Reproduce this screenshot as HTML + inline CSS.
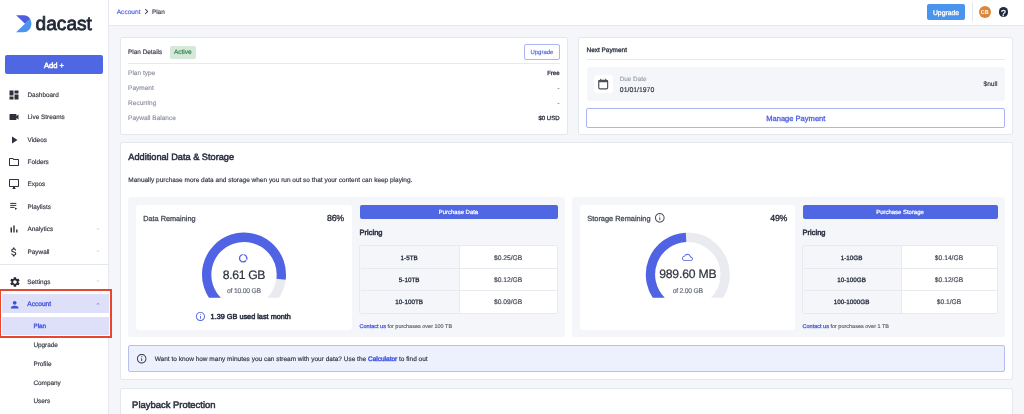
<!DOCTYPE html>
<html><head><meta charset="utf-8"><title>Dacast - Plan</title>
<style>
html,body{margin:0;padding:0;}
body{width:1024px;height:414px;overflow:hidden;position:relative;font-family:"Liberation Sans", Arial, sans-serif;background:#f5f6fa;text-rendering:geometricPrecision;}
.a{position:absolute;}
.t{position:absolute;white-space:nowrap;line-height:1;}
#w{position:absolute;left:0;top:0;width:1024px;height:414px;will-change:transform;}
</style></head><body><div id="w">
<div class="a" style="left:0.00px;top:0.00px;width:1024.00px;height:414.00px;background:#f5f6fa;"></div>
<div class="a" style="left:0.00px;top:0.00px;width:108.00px;height:414.00px;background:#fff;"></div>
<div class="a" style="left:108.00px;top:0.00px;width:1.00px;height:414.00px;background:#e5e7ee;"></div>
<svg class="a" style="left:0.00px;top:0.00px;" width="40" height="40" viewBox="0 0 40 40"><path fill="#4f5de0" d="M16.1,15.2 L23.6,15.2 C26.6,15.2 29,16.8 30.3,19.2 L25,23.75 Z"/><path fill="#4b93ee" d="M25,23.75 L30.3,19.2 C31,20.5 31.4,22 31.4,23.75 C31.4,28.5 28,32.3 23.6,32.3 L16.1,32.3 Z"/></svg>
<div class="t" style="left:35.60px;top:15px;font-size:19.1px;color:#1f2636;-webkit-text-stroke-width:0.15px;-webkit-text-stroke-width:0.8px;">dacast</div>
<div class="a" style="left:5.00px;top:55.20px;width:98.00px;height:18.60px;background:#5067e3;border-radius:2px;"></div>
<div class="t" style="left:-246.00px;width:600px;text-align:center;top:62px;font-size:7.6px;color:#fff;-webkit-text-stroke-width:0.5px;">Add +</div>
<svg class="a" style="left:8.40px;top:88.70px;" width="12" height="12" viewBox="0 0 24 24"><path fill="#2c313c" d="M3 13h8V3H3v10zm0 8h8v-6H3v6zm10 0h8V11h-8v10zm0-18v6h8V3h-8z"/></svg>
<div class="t" style="left:27.50px;top:93px;font-size:6.4px;color:#30343f;-webkit-text-stroke-width:0.15px;">Dashboard</div>
<svg class="a" style="left:8.40px;top:111.10px;" width="12" height="12" viewBox="0 0 24 24"><path fill="#2c313c" d="M17 10.5V7c0-.55-.45-1-1-1H4c-.55 0-1 .45-1 1v10c0 .55.45 1 1 1h12c.55 0 1-.45 1-1v-3.5l4 4v-11l-4 4z"/></svg>
<div class="t" style="left:27.50px;top:115px;font-size:6.4px;color:#30343f;-webkit-text-stroke-width:0.15px;">Live Streams</div>
<svg class="a" style="left:8.40px;top:133.60px;" width="12" height="12" viewBox="0 0 24 24"><path fill="#2c313c" d="M8 5v14l11-7z"/></svg>
<div class="t" style="left:27.50px;top:138px;font-size:6.4px;color:#30343f;-webkit-text-stroke-width:0.15px;">Videos</div>
<svg class="a" style="left:8.40px;top:156.00px;" width="12" height="12" viewBox="0 0 24 24"><path fill="#2c313c" d="M9.17 6l2 2H20v10H4V6h5.17M10 4H4c-1.1 0-1.99.9-1.99 2L2 18c0 1.1.9 2 2 2h16c1.1 0 2-.9 2-2V8c0-1.1-.9-2-2-2h-8l-2-2z"/></svg>
<div class="t" style="left:27.50px;top:160px;font-size:6.4px;color:#30343f;-webkit-text-stroke-width:0.15px;">Folders</div>
<svg class="a" style="left:8.40px;top:178.40px;" width="12" height="12" viewBox="0 0 24 24"><path fill="#2c313c" d="M20 2H4c-1.1 0-2 .9-2 2v12c0 1.1.9 2 2 2h6v2H9v2h6v-2h-1v-2h6c1.1 0 2-.9 2-2V4c0-1.1-.9-2-2-2zm0 14H4V4h16v12z"/></svg>
<div class="t" style="left:27.50px;top:182px;font-size:6.4px;color:#30343f;-webkit-text-stroke-width:0.15px;">Expos</div>
<svg class="a" style="left:0.00px;top:195.00px;" width="30" height="20" viewBox="0 195 30 20"><g fill="#262b36"><rect x="10.2" y="202.9" width="6.1" height="0.95"/><rect x="10.2" y="204.9" width="6.1" height="0.95"/><rect x="10.2" y="206.9" width="4.3" height="0.95"/><path d="M15,207.6 L17.3,208.7 L15,209.8 Z"/></g></svg>
<div class="t" style="left:27.50px;top:205px;font-size:6.4px;color:#30343f;-webkit-text-stroke-width:0.15px;">Playlists</div>
<svg class="a" style="left:8.40px;top:223.20px;" width="12" height="12" viewBox="0 0 24 24"><path fill="#2c313c" d="M5 9.2h3V19H5zM10.6 5h2.8v14h-2.8zm5.6 8H19v6h-2.8z"/></svg>
<div class="t" style="left:27.50px;top:227px;font-size:6.4px;color:#30343f;-webkit-text-stroke-width:0.15px;">Analytics</div>
<svg class="a" style="left:8.40px;top:245.60px;" width="12" height="12" viewBox="0 0 24 24"><path fill="#2c313c" d="M11.8 10.9c-2.27-.59-3-1.2-3-2.15 0-1.09 1.01-1.85 2.7-1.85 1.78 0 2.44.85 2.5 2.1h2.21c-.07-1.72-1.12-3.3-3.21-3.81V3h-3v2.16c-1.94.42-3.5 1.68-3.5 3.610 0 2.31 1.91 3.46 4.7 4.13 2.5.6 3 1.48 3 2.41 0 .69-.49 1.79-2.7 1.79-2.06 0-2.870-.92-2.98-2.1h-2.2c.12 2.19 1.76 3.42 3.68 3.83V21h3v-2.15c1.950-.37 3.5-1.5 3.5-3.55 0-2.84-2.43-3.81-4.7-4.4z"/></svg>
<div class="t" style="left:27.50px;top:250px;font-size:6.4px;color:#30343f;-webkit-text-stroke-width:0.15px;">Paywall</div>
<svg class="a" style="left:94.50px;top:225.80px;" width="6" height="6" viewBox="0 0 24 24"><path fill="#c5c8d2" d="M16.59 8.59L12 13.17 7.41 8.59 6 10l6 6 6-6z"/></svg>
<svg class="a" style="left:94.50px;top:248.20px;" width="6" height="6" viewBox="0 0 24 24"><path fill="#c5c8d2" d="M16.59 8.59L12 13.17 7.41 8.59 6 10l6 6 6-6z"/></svg>
<svg class="a" style="left:94.50px;top:278.40px;" width="6" height="6" viewBox="0 0 24 24"><path fill="#c5c8d2" d="M16.59 8.59L12 13.17 7.41 8.59 6 10l6 6 6-6z"/></svg>
<div class="a" style="left:0.00px;top:263.70px;width:108.00px;height:1.00px;background:#e5e7ee;"></div>
<svg class="a" style="left:8.50px;top:275.90px;" width="11.9" height="11.9" viewBox="0 0 24 24"><path fill="#262b36" d="M19.14,12.94c0.04-0.3,0.06-0.61,0.06-0.94c0-0.32-0.02-0.64-0.07-0.94l2.03-1.58c0.18-0.14,0.23-0.41,0.12-0.61 l-1.92-3.32c-0.12-0.22-0.37-0.29-0.59-0.22l-2.39,0.96c-0.5-0.38-1.03-0.7-1.62-0.94L14.4,2.81c-0.04-0.24-0.24-0.41-0.48-0.41 h-3.84c-0.24,0-0.43,0.17-0.47,0.41L9.25,5.35C8.66,5.59,8.12,5.92,7.63,6.29L5.24,5.33c-0.22-0.08-0.47,0-0.59,0.22L2.74,8.87 C2.62,9.08,2.66,9.34,2.86,9.48l2.03,1.58C4.84,11.36,4.8,11.69,4.8,12s0.02,0.64,0.07,0.94l-2.03,1.58 c-0.18,0.14-0.23,0.41-0.12,0.61l1.92,3.32c0.12,0.22,0.37,0.29,0.59,0.22l2.39-0.96c0.5,0.38,1.03,0.7,1.62,0.94l0.36,2.54 c0.05,0.24,0.24,0.41,0.48,0.41h3.84c0.24,0,0.44-0.17,0.47-0.41l0.36-2.54c0.59-0.24,1.13-0.56,1.62-0.94l2.39,0.96 c0.22,0.08,0.47,0,0.59-0.22l1.92-3.32c0.12-0.22,0.07-0.47-0.12-0.61L19.14,12.94z M12,15.6c-1.98,0-3.6-1.62-3.6-3.6 s1.62-3.6,3.6-3.6s3.6,1.62,3.6,3.6S13.98,15.6,12,15.6z"/></svg>
<div class="t" style="left:27.30px;top:280px;font-size:6.4px;color:#30343f;-webkit-text-stroke-width:0.15px;">Settings</div>
<div class="a" style="left:-0.70px;top:288.80px;width:112.90px;height:49.50px;background:#fff;border:2px solid #e8472d;box-sizing:border-box;"></div>
<div class="a" style="left:1.90px;top:293.80px;width:107.00px;height:19.00px;background:#dde0f8;"></div>
<div class="a" style="left:1.90px;top:316.80px;width:107.00px;height:18.40px;background:#dde0f8;"></div>
<svg class="a" style="left:8.80px;top:298.60px;" width="11.4" height="11.4" viewBox="0 0 24 24"><path fill="#3e50dc" d="M12 12c2.21 0 4-1.79 4-4s-1.79-4-4-4-4 1.79-4 4 1.79 4 4 4zm0 2c-2.67 0-8 1.34-8 4v2h16v-2c0-2.66-5.33-4-8-4z"/></svg>
<div class="t" style="left:27.30px;top:302px;font-size:6.6px;color:#3e50dc;-webkit-text-stroke-width:0.3px;">Account</div>
<svg class="a" style="left:94.50px;top:301.00px;" width="6" height="6" viewBox="0 0 24 24"><path fill="#5a6bdc" d="M12 8l-6 6 1.41 1.41L12 10.83l4.59 4.58L18 14z"/></svg>
<div class="t" style="left:33.50px;top:324px;font-size:6.3px;color:#3e50dc;-webkit-text-stroke-width:0.3px;">Plan</div>
<div class="t" style="left:33.40px;top:343px;font-size:6.4px;color:#30343f;-webkit-text-stroke-width:0.15px;">Upgrade</div>
<div class="t" style="left:33.40px;top:362px;font-size:6.4px;color:#30343f;-webkit-text-stroke-width:0.15px;">Profile</div>
<div class="t" style="left:33.40px;top:381px;font-size:6.4px;color:#30343f;-webkit-text-stroke-width:0.15px;">Company</div>
<div class="t" style="left:33.40px;top:399px;font-size:6.4px;color:#30343f;-webkit-text-stroke-width:0.15px;">Users</div>
<div class="a" style="left:109.00px;top:0.00px;width:915.00px;height:25.00px;background:#fff;"></div>
<div class="a" style="left:109.00px;top:25.00px;width:915.00px;height:1.00px;background:#e5e7ee;"></div>
<div class="t" style="left:116.70px;top:10px;font-size:6.6px;color:#4b5fe0;-webkit-text-stroke-width:0.15px;">Account</div>
<svg class="a" style="left:140.90px;top:6.20px;" width="11" height="11" viewBox="0 0 24 24"><path fill="#3a3f4b" d="M10 6L8.59 7.41 13.17 12l-4.58 4.59L10 18l6-6z"/></svg>
<div class="t" style="left:151.90px;top:10px;font-size:6.4px;color:#3a3f4b;-webkit-text-stroke-width:0.15px;">Plan</div>
<div class="a" style="left:927.00px;top:4.30px;width:38.00px;height:15.40px;background:#4a94ee;border-radius:2px;"></div>
<div class="t" style="left:646.00px;width:600px;text-align:center;top:11px;font-size:6.8px;color:#fff;-webkit-text-stroke-width:0.3px;">Upgrade</div>
<div class="a" style="left:972.00px;top:2.00px;width:1.00px;height:20.00px;background:#e5e7ee;"></div>
<div class="a" style="left:978.80px;top:6.10px;width:11.90px;height:11.90px;background:#d9873b;border-radius:50%;"></div>
<div class="t" style="left:684.70px;width:600px;text-align:center;top:11px;font-size:5.4px;color:#fff;font-weight:700;">CB</div>
<div class="a" style="left:998.60px;top:7.20px;width:9.60px;height:9.60px;background:#1e293b;border-radius:50%;"></div>
<div class="t" style="left:703.30px;width:600px;text-align:center;top:9px;font-size:8.6px;color:#fff;-webkit-text-stroke-width:0.3px;">?</div>
<div class="a" style="left:120.00px;top:36.60px;width:448.00px;height:98.80px;background:#fff;border:1px solid #e5e7ee;border-radius:2px;box-sizing:border-box;"></div>
<div class="t" style="left:128.10px;top:50px;font-size:6.4px;color:#2f3441;-webkit-text-stroke-width:0.15px;">Plan Details</div>
<div class="a" style="left:170.00px;top:45.70px;width:25.50px;height:12.90px;background:#d5e9da;border-radius:2px;"></div>
<div class="t" style="left:-117.20px;width:600px;text-align:center;top:50px;font-size:6.55px;color:#3e8a50;-webkit-text-stroke-width:0.22px;">Active</div>
<div class="a" style="left:524.20px;top:44.20px;width:35.40px;height:15.40px;border:1px solid #aab5f2;border-radius:2px;box-sizing:border-box;background:#fff;"></div>
<div class="t" style="left:241.90px;width:600px;text-align:center;top:50px;font-size:6.0px;color:#5065e3;-webkit-text-stroke-width:0.15px;">Upgrade</div>
<div class="a" style="left:128.00px;top:62.60px;width:432.00px;height:1.00px;background:#e8eaf0;"></div>
<div class="t" style="left:128.10px;top:71px;font-size:6.5px;color:#8c91a1;-webkit-text-stroke-width:0.15px;">Plan type</div>
<div class="t" style="right:464.50px;text-align:right;top:71px;font-size:6.0px;color:#2c3240;-webkit-text-stroke-width:0.3px;">Free</div>
<div class="t" style="left:128.10px;top:86px;font-size:6.5px;color:#8c91a1;-webkit-text-stroke-width:0.15px;">Payment</div>
<div class="t" style="right:464.50px;text-align:right;top:86px;font-size:6.0px;color:#80859a;-webkit-text-stroke-width:0.15px;">-</div>
<div class="t" style="left:128.10px;top:101px;font-size:6.5px;color:#8c91a1;-webkit-text-stroke-width:0.15px;">Recurring</div>
<div class="t" style="right:464.50px;text-align:right;top:101px;font-size:6.0px;color:#80859a;-webkit-text-stroke-width:0.15px;">-</div>
<div class="t" style="left:128.10px;top:116px;font-size:6.5px;color:#8c91a1;-webkit-text-stroke-width:0.15px;">Paywall Balance</div>
<div class="t" style="right:464.50px;text-align:right;top:116px;font-size:6.0px;color:#2c3240;-webkit-text-stroke-width:0.3px;">$0 USD</div>
<div class="a" style="left:578.00px;top:36.60px;width:435.00px;height:98.80px;background:#fff;border:1px solid #e5e7ee;border-radius:2px;box-sizing:border-box;"></div>
<div class="t" style="left:586.50px;top:48px;font-size:6.45px;color:#2c3240;-webkit-text-stroke-width:0.3px;">Next Payment</div>
<div class="a" style="left:586.50px;top:59.10px;width:418.50px;height:1.00px;background:#e8eaf0;"></div>
<div class="a" style="left:586.50px;top:67.10px;width:418.10px;height:33.50px;background:#f5f6fa;border-radius:3px;"></div>
<div class="a" style="left:594.00px;top:74.80px;width:18.60px;height:18.60px;background:#fff;border-radius:3px;"></div>
<svg class="a" style="left:590.00px;top:70.00px;" width="24" height="24" viewBox="590 70 24 24"><rect x="598.75" y="80.35" width="8.9" height="8.5" rx="1.3" fill="none" stroke="#4a4f5e" stroke-width="1.15"/><rect x="598.3" y="79.9" width="9.8" height="2.4" rx="1" fill="#4a4f5e"/><rect x="600.2" y="78.8" width="1" height="1.6" fill="#4a4f5e"/><rect x="605.2" y="78.8" width="1" height="1.6" fill="#4a4f5e"/></svg>
<div class="t" style="left:619.80px;top:77px;font-size:6.3px;color:#9ba0ae;-webkit-text-stroke-width:0.15px;">Due Date</div>
<div class="t" style="left:619.80px;top:88px;font-size:6.9px;color:#2c3240;-webkit-text-stroke-width:0.15px;">01/01/1970</div>
<div class="t" style="right:26.60px;text-align:right;top:82px;font-size:6.6px;color:#2c3240;-webkit-text-stroke-width:0.15px;">$null</div>
<div class="a" style="left:586.30px;top:108.20px;width:418.70px;height:20.00px;border:1px solid #aab5f2;border-radius:2px;box-sizing:border-box;background:#fff;"></div>
<div class="t" style="left:495.80px;width:600px;text-align:center;top:115px;font-size:7.55px;color:#4b5fe0;-webkit-text-stroke-width:0.3px;">Manage Payment</div>
<div class="a" style="left:120.00px;top:142.40px;width:893.00px;height:237.20px;background:#fff;border:1px solid #e5e7ee;border-radius:2px;box-sizing:border-box;"></div>
<div class="t" style="left:128.30px;top:153px;font-size:9.2px;color:#2a3040;-webkit-text-stroke-width:0.5px;">Additional Data &amp; Storage</div>
<div class="t" style="left:128.30px;top:178px;font-size:6.49px;color:#2c3240;-webkit-text-stroke-width:0.15px;">Manually purchase more data and storage when you run out so that your content can keep playing.</div>
<div class="a" style="left:128.30px;top:197.30px;width:436.50px;height:139.90px;background:#f5f6fa;border-radius:3px;"></div>
<div class="a" style="left:135.80px;top:204.70px;width:215.90px;height:124.90px;background:#fff;border-radius:3px;"></div>
<div class="t" style="left:143.20px;top:215px;font-size:7.3px;color:#474c59;-webkit-text-stroke-width:0.3px;">Data Remaining</div>
<div class="t" style="right:680.15px;text-align:right;top:214px;font-size:8.8px;color:#1f2533;-webkit-text-stroke-width:0.3px;letter-spacing:-0.25px;">86%</div>
<svg class="a" style="left:0;top:0;" width="1024" height="414" viewBox="0 0 1024 414"><defs><clipPath id="c244"><rect x="0" y="0" width="1024" height="297.8"/></clipPath></defs><g clip-path="url(#c244)"><path d="M217.59,301.01 A37.35,37.35 0 1 1 270.41,301.01" fill="none" stroke="#e9ebf1" stroke-width="9.299999999999997"/><path d="M217.59,301.01 A37.35,37.35 0 1 1 281.06,279.28" fill="none" stroke="#4f63e4" stroke-width="9.299999999999997"/></g></svg>
<div class="t" style="left:-56.00px;width:600px;text-align:center;top:269px;font-size:12.2px;color:#30353f;-webkit-text-stroke-width:0.22px;letter-spacing:-0.35px;">8.61 GB</div>
<div class="t" style="left:-56.00px;width:600px;text-align:center;top:289px;font-size:6.8px;color:#626878;-webkit-text-stroke-width:0.15px;letter-spacing:-0.22px;">of 10.00 GB</div>
<div class="a" style="left:359.60px;top:204.60px;width:198.20px;height:14.90px;background:#5067e3;border-radius:2px;"></div>
<div class="t" style="left:158.50px;width:600px;text-align:center;top:211px;font-size:5.95px;color:#fff;-webkit-text-stroke-width:0.22px;">Purchase Data</div>
<div class="t" style="left:359.60px;top:229px;font-size:7.5px;color:#2a3040;-webkit-text-stroke-width:0.5px;">Pricing</div>
<div class="a" style="left:359.00px;top:245.00px;width:198.50px;height:69.00px;background:#fff;border:1px solid #e8eaf0;box-sizing:border-box;border-radius:2px;"></div>
<div class="a" style="left:360.00px;top:246.00px;width:99.00px;height:67.00px;background:#f5f6fa;"></div>
<div class="a" style="left:459.00px;top:246.00px;width:1.00px;height:67.00px;background:#e8eaf0;"></div>
<div class="a" style="left:360.50px;top:268.00px;width:196.00px;height:1.00px;background:#e8eaf0;"></div>
<div class="a" style="left:360.50px;top:290.00px;width:196.00px;height:1.00px;background:#e8eaf0;"></div>
<div class="t" style="left:109.15px;width:600px;text-align:center;top:256px;font-size:6.3px;color:#2a3040;-webkit-text-stroke-width:0.3px;">1-5TB</div>
<div class="t" style="left:208.05px;width:600px;text-align:center;top:256px;font-size:6.7px;color:#3a3f4c;-webkit-text-stroke-width:0.15px;">$0.25/GB</div>
<div class="t" style="left:109.15px;width:600px;text-align:center;top:278px;font-size:6.3px;color:#2a3040;-webkit-text-stroke-width:0.3px;">5-10TB</div>
<div class="t" style="left:208.05px;width:600px;text-align:center;top:278px;font-size:6.7px;color:#3a3f4c;-webkit-text-stroke-width:0.15px;">$0.12/GB</div>
<div class="t" style="left:109.15px;width:600px;text-align:center;top:300px;font-size:6.3px;color:#2a3040;-webkit-text-stroke-width:0.3px;">10-100TB</div>
<div class="t" style="left:208.05px;width:600px;text-align:center;top:300px;font-size:6.7px;color:#3a3f4c;-webkit-text-stroke-width:0.15px;">$0.09/GB</div>
<div class="t" style="left:359.60px;top:325px;font-size:5.5px;color:#5d6270;-webkit-text-stroke-width:0.15px;"><span style="color:#4b5fe0;-webkit-text-stroke-width:0.3px">Contact us</span> for purchases over 100 TB</div>
<div class="a" style="left:572.40px;top:197.30px;width:432.60px;height:139.90px;background:#f5f6fa;border-radius:3px;"></div>
<div class="a" style="left:579.90px;top:204.70px;width:215.10px;height:124.90px;background:#fff;border-radius:3px;"></div>
<div class="t" style="left:587.30px;top:215px;font-size:7.4px;color:#474c59;-webkit-text-stroke-width:0.3px;">Storage Remaining</div>
<div class="t" style="right:236.85px;text-align:right;top:214px;font-size:8.8px;color:#1f2533;-webkit-text-stroke-width:0.3px;letter-spacing:-0.25px;">49%</div>
<svg class="a" style="left:0;top:0;" width="1024" height="414" viewBox="0 0 1024 414"><defs><clipPath id="c687"><rect x="0" y="0" width="1024" height="297.8"/></clipPath></defs><g clip-path="url(#c687)"><path d="M661.39,301.01 A37.35,37.35 0 1 1 714.21,301.01" fill="none" stroke="#e9ebf1" stroke-width="9.299999999999997"/><path d="M661.39,301.01 A37.35,37.35 0 0 1 686.04,237.29" fill="none" stroke="#4f63e4" stroke-width="9.299999999999997"/></g></svg>
<div class="t" style="left:387.80px;width:600px;text-align:center;top:268px;font-size:12.2px;color:#30353f;-webkit-text-stroke-width:0.22px;letter-spacing:-0.18px;">989.60 MB</div>
<div class="t" style="left:387.80px;width:600px;text-align:center;top:289px;font-size:6.8px;color:#626878;-webkit-text-stroke-width:0.15px;letter-spacing:-0.22px;">of 2.00 GB</div>
<div class="a" style="left:802.60px;top:204.60px;width:195.20px;height:14.90px;background:#5067e3;border-radius:2px;"></div>
<div class="t" style="left:600.00px;width:600px;text-align:center;top:211px;font-size:5.95px;color:#fff;-webkit-text-stroke-width:0.22px;">Purchase Storage</div>
<div class="t" style="left:802.60px;top:229px;font-size:7.5px;color:#2a3040;-webkit-text-stroke-width:0.5px;">Pricing</div>
<div class="a" style="left:802.00px;top:245.00px;width:195.50px;height:69.00px;background:#fff;border:1px solid #e8eaf0;box-sizing:border-box;border-radius:2px;"></div>
<div class="a" style="left:803.00px;top:246.00px;width:98.00px;height:67.00px;background:#f5f6fa;"></div>
<div class="a" style="left:901.00px;top:246.00px;width:1.00px;height:67.00px;background:#e8eaf0;"></div>
<div class="a" style="left:803.50px;top:268.00px;width:193.00px;height:1.00px;background:#e8eaf0;"></div>
<div class="a" style="left:803.50px;top:290.00px;width:193.00px;height:1.00px;background:#e8eaf0;"></div>
<div class="t" style="left:551.60px;width:600px;text-align:center;top:256px;font-size:6.3px;color:#2a3040;-webkit-text-stroke-width:0.3px;">1-10GB</div>
<div class="t" style="left:649.00px;width:600px;text-align:center;top:256px;font-size:6.7px;color:#3a3f4c;-webkit-text-stroke-width:0.15px;">$0.14/GB</div>
<div class="t" style="left:551.60px;width:600px;text-align:center;top:278px;font-size:6.3px;color:#2a3040;-webkit-text-stroke-width:0.3px;">10-100GB</div>
<div class="t" style="left:649.00px;width:600px;text-align:center;top:278px;font-size:6.7px;color:#3a3f4c;-webkit-text-stroke-width:0.15px;">$0.12/GB</div>
<div class="t" style="left:551.60px;width:600px;text-align:center;top:300px;font-size:6.3px;color:#2a3040;-webkit-text-stroke-width:0.3px;">100-1000GB</div>
<div class="t" style="left:649.00px;width:600px;text-align:center;top:300px;font-size:6.7px;color:#3a3f4c;-webkit-text-stroke-width:0.15px;">$0.1/GB</div>
<div class="t" style="left:802.60px;top:325px;font-size:5.5px;color:#5d6270;-webkit-text-stroke-width:0.15px;"><span style="color:#4b5fe0;-webkit-text-stroke-width:0.3px">Contact us</span> for purchases over 1 TB</div>
<svg class="a" style="left:238.20px;top:252.80px;" width="10.4" height="10.4" viewBox="0 0 24 24"><path fill="#4f63e4" d="M13 2.05v3.03c3.39.49 6 3.39 6 6.92 0 .9-.18 1.75-.48 2.54l2.6 1.53c.56-1.24.88-2.62.88-4.07 0-5.18-3.950-9.45-9-9.95zM12 19c-3.87 0-7-3.13-7-7 0-3.53 2.61-6.43 6-6.92V2.05c-5.06.5-9 4.76-9 9.95 0 5.52 4.47 10 9.99 10 3.31 0 6.24-1.61 8.06-4.09l-2.6-1.53C16.17 17.98 14.21 19 12 19z"/></svg>
<svg class="a" style="left:195.05px;top:311.15px;" width="10.9" height="10.9" viewBox="0 0 24 24"><path fill="#4f63e4" d="M11 7h2v2h-2zm0 4h2v6h-2zm1-9C6.48 2 2 6.48 2 12s4.48 10 10 10 10-4.48 10-10S17.52 2 12 2zm0 18c-4.41 0-8-3.59-8-8s3.59-8 8-8 8 3.59 8 8-3.59 8-8 8z"/></svg>
<div class="t" style="left:210.60px;top:313px;font-size:7.3px;color:#2a3040;-webkit-text-stroke-width:0.5px;">1.39 GB used last month</div>
<svg class="a" style="left:654.40px;top:212.10px;" width="11.6" height="11.6" viewBox="0 0 24 24"><path fill="#4a4f5c" d="M11 7h2v2h-2zm0 4h2v6h-2zm1-9C6.48 2 2 6.48 2 12s4.48 10 10 10 10-4.48 10-10S17.52 2 12 2zm0 18c-4.41 0-8-3.59-8-8s3.59-8 8-8 8 3.59 8 8-3.59 8-8 8z"/></svg>
<svg class="a" style="left:682.10px;top:252.30px;" width="10.9" height="10.9" viewBox="0 0 24 24"><path fill="#5067e3" d="M19.35 10.04C18.67 6.59 15.64 4 12 4 9.11 4 6.6 5.64 5.35 8.04 2.34 8.36 0 10.91 0 14c0 3.31 2.69 6 6 6h13c2.76 0 5-2.240 5-5 0-2.64-2.05-4.78-4.65-4.96zM19 18H6c-2.21 0-4-1.79-4-4s1.79-4 4-4h.71C7.37 7.69 9.48 6 12 6c3.04 0 5.5 2.46 5.5 5.5v.5H19c1.66 0 3 1.34 3 3s-1.34 3-3 3z"/></svg>
<div class="a" style="left:128.20px;top:344.60px;width:877.30px;height:27.10px;background:#edf0fd;border:1px solid #b7bff1;border-radius:2px;box-sizing:border-box;"></div>
<svg class="a" style="left:135.80px;top:352.60px;" width="11.4" height="11.4" viewBox="0 0 24 24"><path fill="#3a3f4c" d="M11 7h2v2h-2zm0 4h2v6h-2zm1-9C6.48 2 2 6.48 2 12s4.48 10 10 10 10-4.48 10-10S17.52 2 12 2zm0 18c-4.41 0-8-3.59-8-8s3.59-8 8-8 8 3.59 8 8-3.59 8-8 8z"/></svg>
<div class="t" style="left:154.70px;top:357px;font-size:6.5px;color:#2c3240;-webkit-text-stroke-width:0.15px;">Want to know how many minutes you can stream with your data? Use the <span style="color:#4b5fe0;-webkit-text-stroke-width:0.5px">Calculator</span> to find out</div>
<div class="a" style="left:120.00px;top:387.60px;width:893.00px;height:32.40px;background:#fff;border:1px solid #e5e7ee;border-radius:2px;box-sizing:border-box;"></div>
<div class="t" style="left:132.10px;top:401px;font-size:9.45px;color:#2a3040;-webkit-text-stroke-width:0.5px;">Playback Protection</div>
</div></body></html>
